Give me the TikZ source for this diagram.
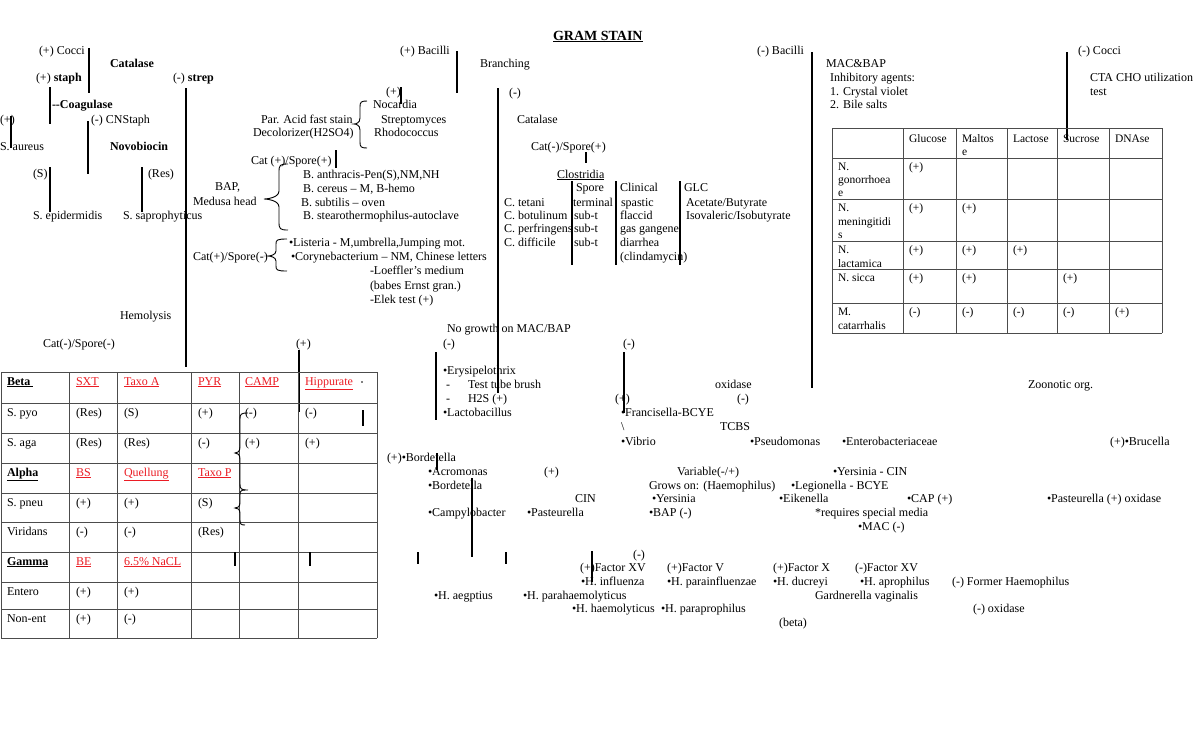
\documentclass[tikz,border=0pt]{standalone}
\usepackage{fontspec}
\setmainfont{Liberation Serif}
\definecolor{tred}{RGB}{235,28,36}
\newcounter{tn}\newcounter{ln}\newcounter{bn}
\tikzset{
 txt/.style={anchor=base west, inner sep=0pt, outer sep=0pt, font=\fontsize{12}{14}\selectfont},
 smalltxt/.style={font=\fontsize{11.5}{13}\selectfont},
 titletxt/.style={font=\fontsize{14}{16}\selectfont\bfseries},
 vline/.style={line width=1.4pt, black},
 tline/.style={line width=1pt, black!70},
 brc/.style={line width=0.9pt, black},
}
\newcommand\tx[4][]{\stepcounter{tn}\edef\tnm{t\arabic{tn}}\node[txt,#1] (\tnm) at (#2,#3+4) {#4};}
\newcommand\vl[3]{\stepcounter{ln}\edef\lnm{l\arabic{ln}}\coordinate (\lnm a) at (#1,#2);\coordinate (\lnm b) at (#1,#3);\draw[vline] (\lnm a) -- (\lnm b);}
% brace: x0, top, bottom, tip y, tip length, curl length, rounding
\newcommand\lbr[7]{\stepcounter{bn}\draw[brc] (#1+#6,#2) .. controls (#1+1,#2) and (#1,#2+1) .. (#1,#2+#7) -- (#1,#4-#7) .. controls (#1,#4-1) and (#1-#5+2,#4) .. (#1-#5,#4) .. controls (#1-#5+2,#4) and (#1,#4+1) .. (#1,#4+#7) -- (#1,#3-#7) .. controls (#1,#3-1) and (#1+1,#3) .. (#1+#6,#3);}
\newcommand\rul[1]{\textcolor{tred}{\underline{#1}}}
\begin{document}
\begin{tikzpicture}[x=1pt,y=-1pt]
\fill[white] (0,0) rectangle (1200,729);
\useasboundingbox (0,0) rectangle (1200,729);

% title
\tx[titletxt]{553}{36}{\underline{GRAM STAIN}}

% ---------- (+) cocci ----------
\tx{39}{50}{(+) Cocci}
\tx{110}{63}{\textbf{Catalase}}
\tx{36}{77}{(+) \textbf{staph}}
\tx{173}{77}{(-) \textbf{strep}}
\tx{52}{104}{\textbf{-{}-Coagulase}}
\tx{0}{119}{(+)}
\tx{91}{119}{(-) CNStaph}
\tx{0}{146}{S. aureus}
\tx{110}{146}{\textbf{Novobiocin}}
\tx{33}{173}{(S)}
\tx{148}{173}{(Res)}
\tx{33}{215}{S. epidermidis}
\tx{123}{215}{S. saprophyticus}
\tx{120}{315}{Hemolysis}
\tx{43}{343}{Cat(-)/Spore(-)}
\tx{296}{343}{(+)}

\vl{89}{48}{93}
\vl{50}{87}{124}
\vl{11}{116}{148}
\vl{88}{121}{174}
\vl{50}{167}{212}
\vl{142}{167}{212}
\vl{186}{88}{367}
\vl{299}{350}{412}

% ---------- (+) bacilli ----------
\tx{400}{50}{(+) Bacilli}
\tx{480}{63}{Branching}
\tx{386}{91}{(+)}
\tx{373}{104}{Nocardia}
\tx{381}{119}{Streptomyces}
\tx{374}{132}{Rhodococcus}
\tx{261}{119}{Par. Acid fast stain}
\tx{253}{132}{Decolorizer(H2SO4)}
\tx{251}{160}{Cat (+)/Spore(+)}
\tx{215}{186}{BAP,}
\tx{193}{201}{Medusa head}
\tx{303}{174}{B. anthracis-Pen(S),NM,NH}
\tx{303}{188}{B. cereus – M, B-hemo}
\tx{301}{202}{B. subtilis – oven}
\tx{303}{215}{B. stearothermophilus-autoclave}
\tx{289}{242}{•Listeria - M,umbrella,Jumping mot.}
\tx{193}{256}{Cat(+)/Spore(-)}
\tx{291}{256}{•Corynebacterium – NM, Chinese letters}
\tx{370}{270}{-Loeffler’s medium}
\tx{370}{285}{(babes Ernst gran.)}
\tx{370}{299}{-Elek test (+)}

\vl{457}{51}{93}
\vl{401}{87}{104}
\vl{336}{150}{168}
\lbr{360}{101}{148}{124}{6}{7}{6}
\lbr{279}{164}{230}{199}{15}{9}{8}
\lbr{276}{239}{271}{256}{8}{11}{5}

% ---------- branching (-) ----------
\tx{509}{92}{(-)}
\tx{517}{119}{Catalase}
\tx{531}{146}{Cat(-)/Spore(+)}
\tx{557}{174}{\underline{Clostridia}}
\tx{576}{187}{Spore}
\tx{620}{187}{Clinical}
\tx{684}{187}{GLC}
\tx{504}{202}{C. tetani}
\tx{573}{202}{terminal}
\tx{621}{202}{spastic}
\tx{686}{202}{Acetate/Butyrate}
\tx{504}{215}{C. botulinum}
\tx{574}{215}{sub-t}
\tx{620}{215}{flaccid}
\tx{686}{215}{Isovaleric/Isobutyrate}
\tx{504}{228}{C. perfringens}
\tx{574}{228}{sub-t}
\tx{620}{228}{gas gangene}
\tx{504}{242}{C. difficile}
\tx{574}{242}{sub-t}
\tx{620}{242}{diarrhea}
\tx{620}{256}{(clindamycin)}
\tx{447}{328}{No growth on MAC/BAP}

\vl{498}{88}{393}
\vl{586}{152}{163}
\vl{572}{181}{265}
\vl{616}{181}{265}
\vl{680}{181}{265}

% ---------- no growth ----------
\tx{443}{343}{(-)}
\tx{623}{343}{(-)}
\tx{443}{370}{•Erysipelothrix}
\tx{446}{384}{-}
\tx{468}{384}{Test tube brush}
\tx{446}{398}{-}
\tx{468}{398}{H2S (+)}
\tx{443}{412}{•Lactobacillus}
\tx{715}{384}{oxidase}
\tx{615}{398}{(+)}
\tx{737}{398}{(-)}
\tx{621}{412}{•Francisella-BCYE}
\tx{621}{426}{\textbackslash}
\tx{720}{426}{TCBS}
\tx{621}{441}{•Vibrio}
\tx{750}{441}{•Pseudomonas}
\tx{842}{441}{•Enterobacteriaceae}
\tx{1110}{441}{(+)•Brucella}
\tx{1028}{384}{Zoonotic org.}
\tx{387}{457}{(+)•Bordetella}
\tx{428}{471}{•Acromonas}
\tx{544}{471}{(+)}
\tx{677}{471}{Variable(-/+)}
\tx{833}{471}{•Yersinia - CIN}
\tx{428}{485}{•Bordetella}
\tx{649}{485}{Grows on: (Haemophilus)}
\tx{791}{485}{•Legionella - BCYE}
\tx{575}{498}{CIN}
\tx{652}{498}{•Yersinia}
\tx{779}{498}{•Eikenella}
\tx{907}{498}{•CAP (+)}
\tx{1047}{498}{•Pasteurella (+) oxidase}
\tx{428}{512}{•Campylobacter}
\tx{527}{512}{•Pasteurella}
\tx{649}{512}{•BAP (-)}
\tx{815}{512}{*requires special media}
\tx{858}{526}{•MAC (-)}
\tx{633}{554}{(-)}
\tx{580}{567}{(+)Factor XV}
\tx{667}{567}{(+)Factor V}
\tx{773}{567}{(+)Factor X}
\tx{855}{567}{(-)Factor XV}
\tx{581}{581}{•H. influenza}
\tx{667}{581}{•H. parainfluenzae}
\tx{773}{581}{•H. ducreyi}
\tx{860}{581}{•H. aprophilus}
\tx{952}{581}{(-) Former Haemophilus}
\tx{434}{595}{•H. aegptius}
\tx{523}{595}{•H. parahaemolyticus}
\tx{815}{595}{Gardnerella vaginalis}
\tx{572}{608}{•H. haemolyticus}
\tx{661}{608}{•H. paraprophilus}
\tx{973}{608}{(-) oxidase}
\tx{779}{622}{(beta)}

\vl{436}{352}{420}
\vl{437}{453}{470}
\vl{472}{478}{557}
\vl{624}{352}{413}
\vl{418}{552}{564}
\vl{506}{552}{564}
\vl{592}{551}{582}

% ---------- (-) bacilli / (-) cocci ----------
\tx{757}{50}{(-) Bacilli}
\tx{826}{63}{MAC\&BAP}
\tx{830}{77}{Inhibitory agents:}
\tx{830}{91}{1. Crystal violet}
\tx{830}{104}{2. Bile salts}
\tx{1078}{50}{(-) Cocci}
\tx{1090}{77}{CTA CHO utilization}
\tx{1090}{91}{test}
\vl{812}{52}{388}
\vl{1067}{52}{140}

% ---------- right table ----------
\foreach \x in {832,903,956,1007,1057,1109,1162} \draw[tline] (\x,128) -- (\x,333);
\foreach \y in {128,158,199,241,269,303,333} \draw[tline] (832,\y) -- (1162,\y);
\tx[smalltxt]{909}{138}{Glucose}
\tx[smalltxt]{962}{138}{Maltos}
\tx[smalltxt]{962}{151}{e}
\tx[smalltxt]{1013}{138}{Lactose}
\tx[smalltxt]{1063}{138}{Sucrose}
\tx[smalltxt]{1115}{138}{DNAse}
\tx[smalltxt]{838}{166}{N.}
\tx[smalltxt]{838}{179}{gonorrhoea}
\tx[smalltxt]{838}{192}{e}
\tx[smalltxt]{909}{166}{(+)}
\tx[smalltxt]{838}{207}{N.}
\tx[smalltxt]{838}{221}{meningitidi}
\tx[smalltxt]{838}{234}{s}
\tx[smalltxt]{909}{207}{(+)}
\tx[smalltxt]{962}{207}{(+)}
\tx[smalltxt]{838}{249}{N.}
\tx[smalltxt]{838}{263}{lactamica}
\tx[smalltxt]{909}{249}{(+)}
\tx[smalltxt]{962}{249}{(+)}
\tx[smalltxt]{1013}{249}{(+)}
\tx[smalltxt]{838}{277}{N. sicca}
\tx[smalltxt]{909}{277}{(+)}
\tx[smalltxt]{962}{277}{(+)}
\tx[smalltxt]{1063}{277}{(+)}
\tx[smalltxt]{838}{311}{M.}
\tx[smalltxt]{838}{325}{catarrhalis}
\tx[smalltxt]{909}{311}{(-)}
\tx[smalltxt]{962}{311}{(-)}
\tx[smalltxt]{1013}{311}{(-)}
\tx[smalltxt]{1063}{311}{(-)}
\tx[smalltxt]{1115}{311}{(+)}

% ---------- left table ----------
\foreach \x in {1,69,117,191,239,298,377} \draw[tline] (\x,372) -- (\x,638);
\foreach \y in {372,403,433,463,493,522,552,582,609,638} \draw[tline] (1,\y) -- (377,\y);
\tx{7}{381}{\textbf{\underline{Beta\ }}}
\tx{76}{381}{\rul{SXT}}
\tx{124}{381}{\rul{Taxo A}}
\tx{198}{381}{\rul{PYR}}
\tx{245}{381}{\rul{CAMP}}
\tx{305}{381}{\rul{Hippurate}}
\fill (362,382) circle (0.8);
\tx{7}{412}{S. pyo}
\tx{76}{412}{(Res)}
\tx{124}{412}{(S)}
\tx{198}{412}{(+)}
\tx{245}{412}{(-)}
\tx{305}{412}{(-)}
\tx{7}{442}{S. aga}
\tx{76}{442}{(Res)}
\tx{124}{442}{(Res)}
\tx{198}{442}{(-)}
\tx{245}{442}{(+)}
\tx{305}{442}{(+)}
\tx{7}{472}{\textbf{\underline{Alpha}}}
\tx{76}{472}{\rul{BS}}
\tx{124}{472}{\rul{Quellung}}
\tx{198}{472}{\rul{Taxo P}}
\tx{7}{502}{S. pneu}
\tx{76}{502}{(+)}
\tx{124}{502}{(+)}
\tx{198}{502}{(S)}
\tx{7}{531}{Viridans}
\tx{76}{531}{(-)}
\tx{124}{531}{(-)}
\tx{198}{531}{(Res)}
\tx{7}{561}{\textbf{\underline{Gamma}}}
\tx{76}{561}{\rul{BE}}
\tx{124}{561}{\rul{6.5\% NaCL}}
\tx{7}{591}{Entero}
\tx{76}{591}{(+)}
\tx{124}{591}{(+)}
\tx{7}{618}{Non-ent}
\tx{76}{618}{(+)}
\tx{124}{618}{(-)}
\vl{363}{410}{426}
\vl{235}{552}{566}
\vl{310}{552}{566}
\lbr{240}{413}{490}{453}{5}{8}{6}
\lbr{240}{490}{525}{508}{5}{5}{5}
\end{tikzpicture}
\end{document}
